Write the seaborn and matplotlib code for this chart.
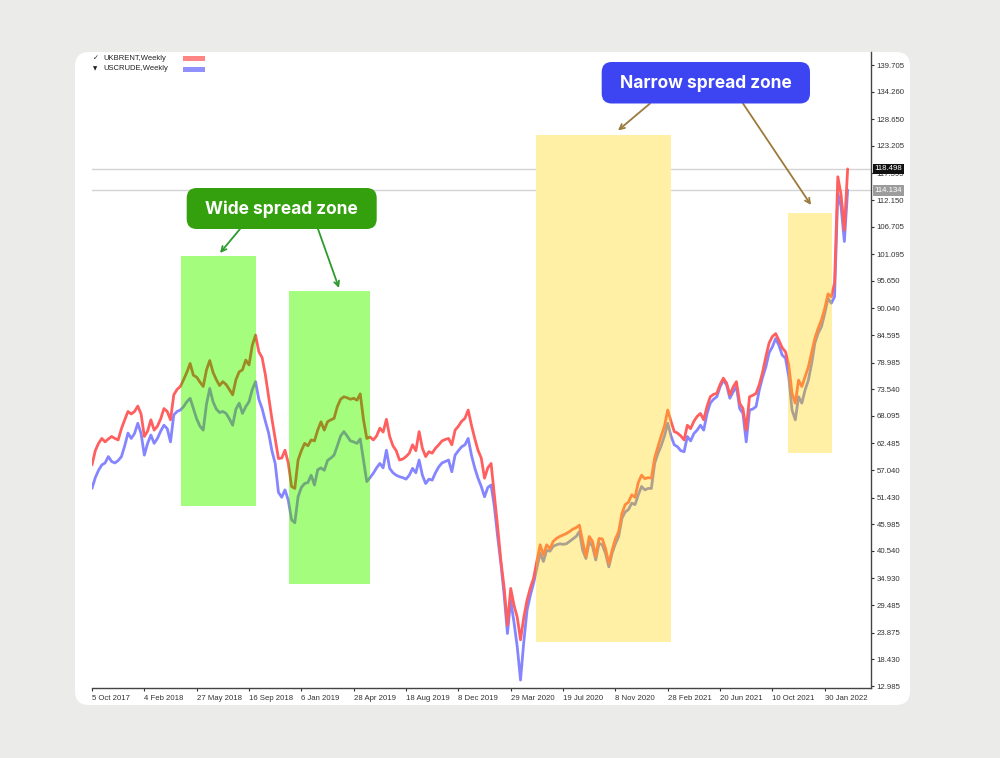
import numpy as np
import pandas as pd
import matplotlib
matplotlib.use("Agg")
import matplotlib.pyplot as plt
import matplotlib.dates as mdates
import seaborn as sns
from matplotlib.patches import FancyBboxPatch, Rectangle, FancyArrowPatch
from matplotlib.transforms import IdentityTransform, blended_transform_factory

# ---------------- data ----------------
start_date = "2017-10-15"
series_names = ["UKBRENT,Weekly", "USCRUDE,Weekly"]

brent = [
    58.1, 61.0, 62.5, 63.5, 62.8, 63.4, 63.9, 63.5, 63.2, 65.5,
    67.3, 69.0, 68.5, 69.0, 70.1, 68.5, 63.9, 65.0, 67.3, 65.2,
    66.0, 67.5, 69.6, 69.0, 67.3, 72.4, 73.5, 74.1, 75.5, 77.0,
    78.8, 76.4, 76.0, 75.0, 74.1, 77.5, 79.4, 77.0, 75.5, 74.3,
    75.1, 74.5, 73.5, 72.4, 75.5, 77.1, 77.5, 79.5, 78.5, 82.5,
    84.6, 81.2, 80.0, 76.5, 72.0, 67.5, 63.5, 59.4, 59.5, 61.1,
    58.5, 53.7, 53.3, 59.1, 61.0, 62.5, 62.0, 63.2, 63.0, 65.2,
    66.9, 65.2, 66.9, 67.3, 67.6, 70.0, 71.5, 72.0, 71.8, 71.5,
    71.7, 71.3, 72.6, 67.3, 63.5, 63.8, 63.2, 64.0, 65.6, 64.8,
    67.4, 63.9, 62.0, 61.0, 59.1, 59.3, 59.8, 60.5, 62.2, 61.0,
    64.9, 61.5, 59.8, 60.8, 60.5, 61.5, 62.2, 63.0, 63.3, 63.5,
    62.2, 65.2, 66.0, 67.0, 67.6, 69.3, 66.2, 63.5, 61.1, 59.5,
    55.4, 57.5, 58.4, 52.0, 45.5, 38.5, 33.0, 25.4, 32.9, 29.5,
    27.0, 22.4, 27.0, 30.5, 33.0, 35.0, 38.5, 41.8, 39.7, 41.8,
    41.0, 42.5, 43.1, 43.5, 43.8, 44.1, 44.5, 45.0, 45.3, 45.8,
    42.5, 39.4, 43.5, 42.5, 39.4, 43.1, 43.0, 41.0, 38.0, 40.7,
    43.0, 44.5, 48.2, 50.0, 50.5, 52.0, 51.5, 54.5, 56.0, 55.3,
    55.5, 55.4, 59.5, 61.8, 64.0, 66.0, 69.3, 67.0, 64.9, 64.6,
    64.0, 63.2, 66.2, 65.5, 67.0, 68.0, 68.6, 67.3, 70.0, 72.0,
    72.5, 72.7, 74.5, 75.8, 74.8, 72.4, 74.0, 75.1, 70.7, 69.6,
    65.2, 72.0, 72.3, 72.7, 74.5, 77.0, 80.2, 83.0, 84.3, 84.9,
    83.5, 82.0, 81.2, 78.5, 72.7, 70.7, 75.4, 74.1, 76.1, 78.1,
    81.0, 84.0, 86.0, 87.7, 90.0, 93.0, 92.4, 95.2, 116.9, 113.2,
    106.0, 118.5,
]

wti = [
    53.3, 55.5, 57.0, 58.1, 58.5, 59.8, 58.8, 58.5, 59.0, 59.8,
    62.0, 64.6, 63.5, 64.5, 66.6, 64.5, 60.1, 62.5, 64.2, 62.5,
    63.5, 65.0, 66.2, 65.5, 62.8, 68.3, 69.0, 69.3, 70.0, 71.0,
    71.7, 69.6, 67.5, 66.0, 65.2, 70.5, 73.7, 71.0, 69.5, 68.8,
    69.0, 68.6, 67.5, 66.2, 69.5, 70.7, 68.6, 70.0, 71.0, 73.5,
    75.1, 71.5, 69.6, 67.0, 64.6, 61.0, 58.4, 52.5, 51.5, 53.0,
    50.9, 46.9, 46.3, 51.6, 53.5, 54.3, 54.5, 56.0, 54.0, 57.1,
    57.5, 57.0, 59.0, 59.5, 60.1, 62.0, 64.0, 64.9, 64.0, 63.0,
    62.8, 62.5, 63.4, 59.1, 54.7, 55.5, 56.4, 57.5, 58.4, 57.5,
    61.1, 57.4, 56.5, 56.0, 55.7, 55.5, 55.2, 56.0, 57.4, 56.5,
    59.1, 56.0, 54.3, 55.2, 55.0, 56.5, 57.7, 58.5, 58.8, 59.1,
    56.7, 60.1, 61.0, 61.8, 62.2, 63.5, 60.1, 57.5, 55.4, 53.7,
    51.6, 53.5, 54.0, 49.6, 43.5, 38.0, 31.5, 23.7, 30.5, 26.0,
    21.0, 14.2, 22.0, 28.5, 31.5, 34.0, 37.0, 40.1, 38.4, 40.7,
    40.5, 41.5, 41.8, 42.0, 41.9, 42.0, 42.5, 43.0, 43.5, 44.5,
    40.7, 39.0, 42.4, 41.5, 38.7, 42.1, 41.8, 40.0, 37.3, 40.1,
    42.0, 43.5, 47.2, 48.5, 49.0, 50.3, 50.0, 52.0, 53.7, 53.0,
    53.3, 53.3, 58.4, 60.4, 62.0, 64.0, 66.6, 64.0, 62.2, 61.8,
    61.0, 60.8, 63.9, 63.0, 64.5, 65.2, 66.2, 65.2, 68.5, 70.7,
    71.5, 72.0, 74.0, 75.4, 74.4, 71.7, 73.0, 74.1, 69.6, 68.6,
    62.8, 69.3, 69.5, 70.0, 73.4, 76.0, 78.1, 81.0, 82.2, 83.9,
    82.5, 80.5, 79.9, 76.1, 69.3, 67.3, 72.0, 70.7, 73.4, 75.4,
    78.8, 83.0, 85.0, 86.3, 89.0, 92.1, 91.1, 92.4, 113.5, 110.8,
    103.7, 114.2,
]

x_tick_dates = ["2017-10-15", "2018-02-04", "2018-05-27", "2018-09-16", "2019-01-06",
                "2019-04-28", "2019-08-18", "2019-12-08", "2020-03-29", "2020-07-19",
                "2020-11-08", "2021-02-28", "2021-06-20", "2021-10-10", "2022-01-30"]
x_tick_labels = ["5 Oct 2017", "4 Feb 2018", "27 May 2018", "16 Sep 2018", "6 Jan 2019",
                 "28 Apr 2019", "18 Aug 2019", "8 Dec 2019", "29 Mar 2020", "19 Jul 2020",
                 "8 Nov 2020", "28 Feb 2021", "20 Jun 2021", "10 Oct 2021", "30 Jan 2022"]
y_ticks = [12.985, 18.430, 23.875, 29.485, 34.930, 40.540, 45.985, 51.430, 57.040,
           62.485, 68.095, 73.540, 78.985, 84.595, 90.040, 95.650, 101.095, 106.705,
           112.150, 117.595, 123.205, 128.650, 134.260, 139.705]
price_marks = [118.498, 114.134]
annotation_texts = ["Wide spread zone", "Narrow spread zone"]

# ---------------- style ----------------
W, H = 1000, 758
RED = "#ff5f5f"
BLUE = "#8585ff"
GREEN_ZONE = "#a4fd7d"
YELLOW_ZONE = "#fff0a6"
RED_IN_GREEN = "#9e8a24"
BLUE_IN_GREEN = "#6fa87c"
RED_IN_YELLOW = "#ff8c3e"
BLUE_IN_YELLOW = "#aea08e"

sns.set_style("white")
plt.rcParams["font.family"] = ["Liberation Sans", "DejaVu Sans"]

df = pd.DataFrame({
    "date": pd.date_range(start_date, periods=len(brent), freq="7D"),
    "brent": brent,
    "wti": wti,
})

fig = plt.figure(figsize=(W / 100, H / 100), dpi=100)
fig.patch.set_facecolor("#ebebe9")
ID = IdentityTransform()


def P(x, y):
    return (x, H - y)


panel = FancyBboxPatch(P(75, 705), 835, 653, boxstyle="round,pad=0,rounding_size=14",
                       transform=ID, fc="white", ec="none", zorder=0)
fig.add_artist(panel)

ax = fig.add_axes([92 / W, (H - 688) / H, (871 - 92) / W, (688 - 52) / H])
ax.set_facecolor("white")

# main lines
sns.lineplot(data=df, x="date", y="wti", ax=ax, color=BLUE, lw=2.0, estimator=None, zorder=2)
sns.lineplot(data=df, x="date", y="brent", ax=ax, color=RED, lw=2.0, estimator=None, zorder=2.1)

# price lines
for pm in price_marks:
    ax.axhline(pm, color="#d4d4d4", lw=1.0, zorder=1)

# zones
zones = [
    ("2018-04-23", "2018-10-01", 49.7, 100.7, GREEN_ZONE, RED_IN_GREEN, BLUE_IN_GREEN),
    ("2018-12-10", "2019-06-02", 33.8, 93.6, GREEN_ZONE, RED_IN_GREEN, BLUE_IN_GREEN),
    ("2020-05-22", "2021-03-08", 21.96, 125.4, YELLOW_ZONE, RED_IN_YELLOW, BLUE_IN_YELLOW),
    ("2021-11-12", "2022-02-15", 60.5, 109.5, YELLOW_ZONE, RED_IN_YELLOW, BLUE_IN_YELLOW),
]
for d0, d1, lo, hi, fc, rc, bc in zones:
    x0 = mdates.date2num(pd.Timestamp(d0))
    x1 = mdates.date2num(pd.Timestamp(d1))
    rect = Rectangle((x0, lo), x1 - x0, hi - lo, fc=fc, ec="none", zorder=3)
    ax.add_patch(rect)
    for col, c in (("wti", bc), ("brent", rc)):
        n_before = len(ax.lines)
        sns.lineplot(data=df, x="date", y=col, ax=ax, color=c, lw=2.0, estimator=None)
        for ln in ax.lines[n_before:]:
            ln.set_clip_path(rect)
            ln.set_zorder(4)

# axes setup
ax.set_xlim(mdates.date2num(pd.Timestamp("2017-10-15")), mdates.date2num(pd.Timestamp("2022-05-09")))
ax.set_ylim(12.577, 142.36)
ax.set_xlabel("")
ax.set_ylabel("")
for s in ("left", "top"):
    ax.spines[s].set_visible(False)
for s in ("right", "bottom"):
    ax.spines[s].set_color("#444444")
    ax.spines[s].set_linewidth(1.0)

ax.yaxis.tick_right()
ax.set_yticks(y_ticks)
ax.set_yticklabels([f"{v:.3f}" for v in y_ticks])
ax.tick_params(axis="y", direction="out", length=2.5, width=0.8, pad=1.5,
               labelsize=5.6, colors="#333333", right=True, left=False)

ax.set_xticks([mdates.date2num(pd.Timestamp(d)) for d in x_tick_dates])
ax.set_xticklabels(x_tick_labels)
ax.tick_params(axis="x", direction="out", length=2.5, width=0.8, pad=2.5,
               labelsize=5.6, colors="#333333", bottom=True)
for lbl in ax.get_xticklabels():
    lbl.set_horizontalalignment("left")
ax.grid(False)

# price labels on the right axis
blend = blended_transform_factory(ax.transAxes, ax.transData)
for pm, bg in zip(price_marks, ["#111111", "#9c9c9c"]):
    ax.text(1.0 + 3.5 / 779, pm, f"{pm:.3f}", transform=blend, ha="left", va="center",
            fontsize=5.6, color="white", zorder=10, clip_on=False,
            bbox=dict(fc=bg, ec="none", pad=1.3))

# legend (top-left)
fig.text(93, H - 58, "\u2713", transform=ID, fontsize=5, color="#222222", va="center",
         family=["DejaVu Sans"])
fig.text(93, H - 69, "\u25bc", transform=ID, fontsize=4, color="#222222", va="center",
         family=["DejaVu Sans"])
fig.text(103, H - 58, series_names[0], transform=ID, fontsize=5.5, color="#222222", va="center")
fig.text(103, H - 69, series_names[1], transform=ID, fontsize=5.5, color="#222222", va="center")
fig.add_artist(Rectangle(P(183, 61), 22, 5, transform=ID, fc="#ff8585", ec="none"))
fig.add_artist(Rectangle(P(183, 72), 22, 5, transform=ID, fc="#9090ff", ec="none"))

# annotation boxes
boxes = [
    (annotation_texts[0], 186.7, 188, 190, 41, "#35a00d"),
    (annotation_texts[1], 601.7, 62, 208.3, 41.5, "#3d45f2"),
]
for txt, bx, by, bw, bh, col in boxes:
    fig.add_artist(FancyBboxPatch(P(bx, by + bh), bw, bh, boxstyle="round,pad=0,rounding_size=10",
                                  transform=ID, fc=col, ec="none", zorder=20))
    fig.text(bx + bw / 2, H - (by + bh / 2) - 0.5, txt, transform=ID, ha="center", va="center",
             color="white", fontsize=12.5, fontweight="bold", family=["Inter", "DejaVu Sans"],
             zorder=21)

arrows = [
    ((240, 229), (220, 253), "#2e9a2e"),
    ((318, 229), (339, 288), "#2e9a2e"),
    ((650, 103.5), (618, 130.5), "#9b7a3c"),
    ((743, 103.5), (811, 205), "#9b7a3c"),
]
for a, b, col in arrows:
    fig.add_artist(FancyArrowPatch(P(*a), P(*b), transform=ID, arrowstyle="->",
                                   mutation_scale=9, color=col, lw=1.3, zorder=19,
                                   shrinkA=0, shrinkB=0))

fig.savefig("out.png", dpi=100, facecolor=fig.get_facecolor())
